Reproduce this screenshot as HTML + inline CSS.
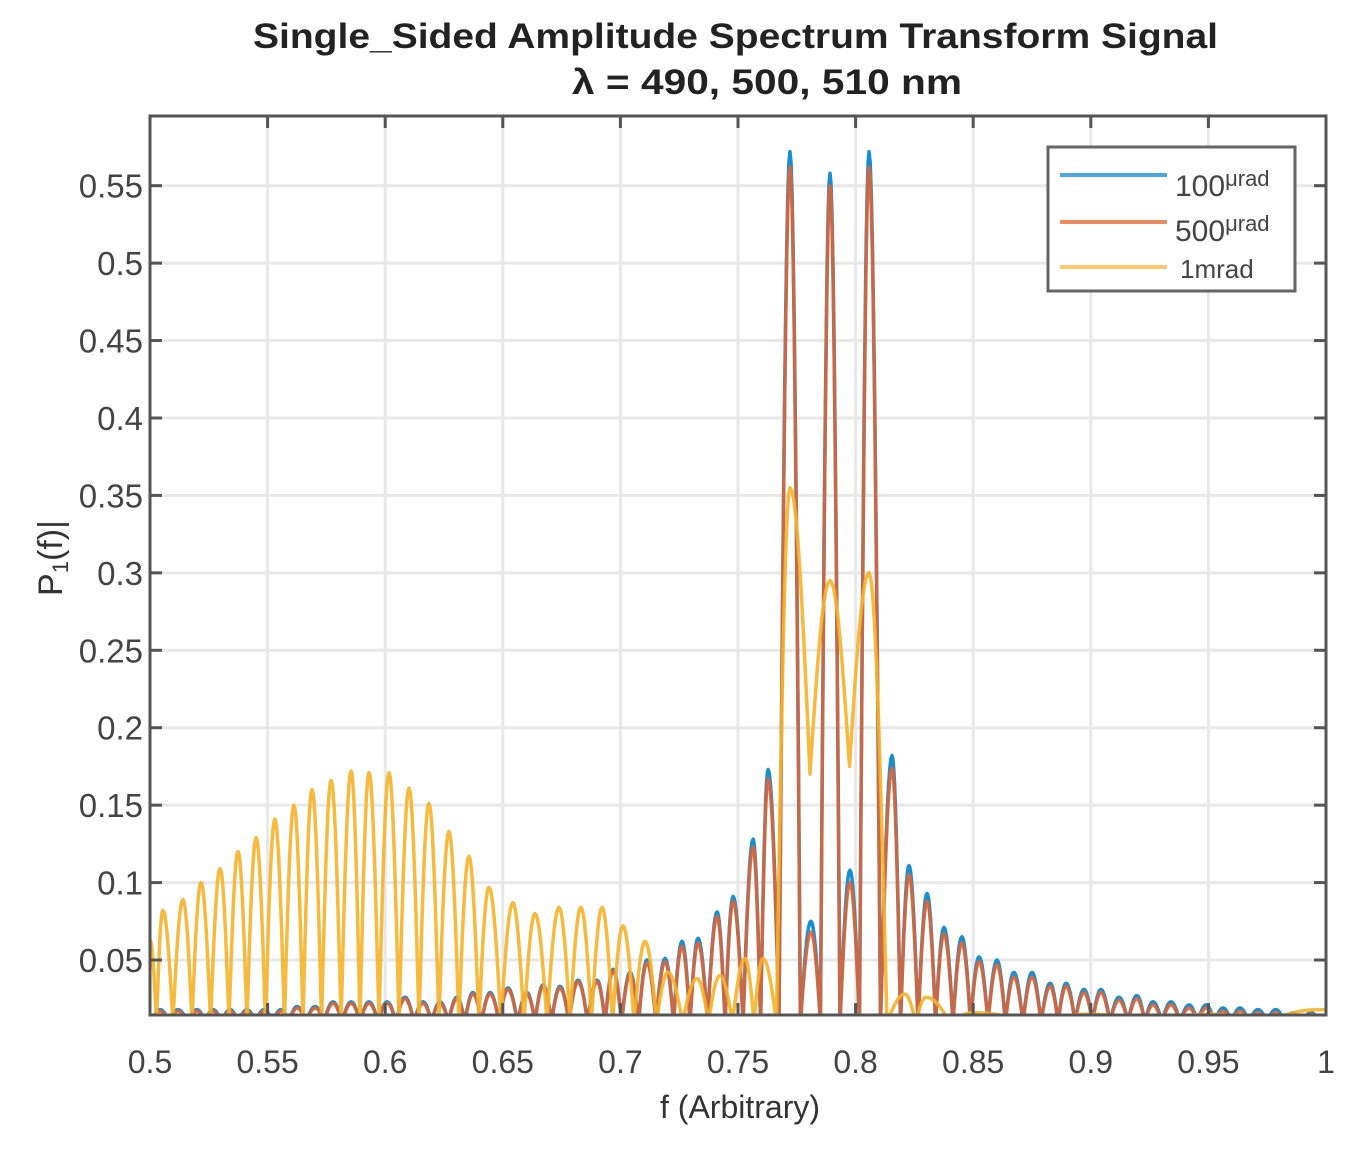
<!DOCTYPE html>
<html><head><meta charset="utf-8"><style>
html,body{margin:0;padding:0;background:#fff;}
svg text{font-family:"Liberation Sans",sans-serif;}
</style></head><body>
<svg id="chart" width="1356" height="1157" viewBox="0 0 1356 1157" xmlns="http://www.w3.org/2000/svg">
<rect width="1356" height="1157" fill="#fff"/>
<text x="253" y="48" font-size="35" font-weight="bold" fill="#222" textLength="965" lengthAdjust="spacingAndGlyphs">Single_Sided Amplitude Spectrum Transform Signal</text>
<text x="572" y="94" font-size="35" font-weight="bold" fill="#222" textLength="390" lengthAdjust="spacingAndGlyphs">λ = 490, 500, 510 nm</text>
<g id="grid"></g>
<g id="series"></g>
<g id="axes"></g>
<text x="740" y="1118" text-anchor="middle" font-size="32" fill="#333">f (Arbitrary)</text>
<text transform="translate(62,558) rotate(-90)" text-anchor="middle" font-size="34" fill="#333">P<tspan font-size="22" dy="6">1</tspan><tspan dy="-6">(f)|</tspan></text>
<g>
<rect x="1048" y="147" width="247" height="144" fill="#fff" stroke="#666" stroke-width="3"/>
<line x1="1060" y1="175" x2="1167" y2="175" stroke="#4aa8dc" stroke-width="4"/>
<text x="1175" y="196" font-size="30" fill="#444">100<tspan font-size="22" dy="-10">μrad</tspan></text>
<line x1="1060" y1="222" x2="1167" y2="222" stroke="#f08a60" stroke-width="4"/>
<text x="1175" y="241" font-size="30" fill="#444">500<tspan font-size="22" dy="-10">μrad</tspan></text>
<line x1="1060" y1="267" x2="1167" y2="267" stroke="#fcca6a" stroke-width="4"/>
<text x="1180" y="278" font-size="26" fill="#444">1mrad</text>
</g>
</svg>
<script>
// ---- data ----
const xTicks = [0.5,0.55,0.6,0.65,0.7,0.75,0.8,0.85,0.9,0.95,1];
const xTickLabels = ["0.5","0.55","0.6","0.65","0.7","0.75","0.8","0.85","0.9","0.95","1"];
const yTicks = [0.05,0.1,0.15,0.2,0.25,0.3,0.35,0.4,0.45,0.5,0.55];
const yTickLabels = ["0.05","0.1","0.15","0.2","0.25","0.3","0.35","0.4","0.45","0.5","0.55"];
const blueF = [.5043,.5119,.5200,.5268,.5340,.5412,.5485,.5557,.5625,.5702,.5778,.5855,.5931,.6008,.6084,.6161,.6233,.6305,.6373,.6446,.6522,.6603,.6671,.6743,.6820,.6901,.6969,.7041,.7113,.7190,.7262,.7330,.7411,.7479,.7564,.7628,.7721,.7810,.7891,.7976,.8057,.8155,.8227,.8304,.8376,.8452,.8525,.8601,.8673,.8750,.8827,.8895,.8971,.9043,.9120,.9196,.9264,.9341,.9418,.9490,.9562,.9634,.9711,.9787,.9860,.9936];
const blueV = [.018,.018,.018,.018,.018,.018,.018,.018,.020,.020,.023,.023,.023,.023,.026,.023,.023,.026,.029,.029,.032,.029,.034,.033,.037,.037,.044,.042,.050,.051,.062,.064,.081,.091,.128,.173,.572,.075,.558,.108,.572,.182,.111,.093,.071,.065,.052,.050,.042,.042,.035,.035,.031,.031,.026,.027,.023,.023,.021,.021,.019,.019,.018,.018,.016,.016];
const redF = blueF;
const redV = [.017,.017,.017,.017,.017,.017,.017,.017,.019,.019,.022,.022,.022,.022,.025,.022,.022,.025,.028,.028,.031,.028,.033,.032,.036,.036,.043,.041,.048,.049,.059,.061,.078,.088,.123,.167,.562,.068,.550,.100,.562,.174,.105,.088,.067,.061,.049,.047,.039,.039,.033,.033,.029,.029,.024,.025,.021,.021,.019,.019,.017,.017,.016,.016,.015,.015];
const yellowF = [.5,.5055,.5140,.5217,.5298,.5374,.5451,.5531,.5612,.5689,.5770,.5855,.5931,.6016,.6101,.6186,.6271,.6356,.6441,.6543,.6637,.6739,.6832,.6922,.7011,.7105,.7202,.7326,.7423,.7530,.7606,.7721,.7891,.8057,.8210,.8300,.8500,.9000,.9500,.9970];
const yellowV = [.063,.082,.089,.100,.109,.120,.129,.141,.150,.160,.166,.172,.171,.171,.161,.151,.133,.117,.097,.087,.080,.084,.084,.084,.072,.062,.042,.038,.040,.051,.051,.355,.295,.300,.028,.026,.016,.015,.015,.018];
// valley value after each peak
const yellowValleyAfter = [.01,.01,.01,.01,.01,.01,.01,.01,.01,.01,.01,.01,.01,.01,.01,.01,.01,.01,.01,.01,.01,.01,.01,.01,.01,.01,.01,.01,.01,.01,.01,.17,.175,.01,.01,.01,.01,.01,.01,.01];

// ---- axes ----
const L=150,R=1326,T=116,B=1015, yMin=0.0145, yMax=0.595;
const xs = f => L + (f-0.5)/0.5*(R-L);
const ys = v => B - (v-yMin)/(yMax-yMin)*(B-T);
const NS="http://www.w3.org/2000/svg";
function mk(tag, parent, attrs){const e=document.createElementNS(NS,tag);for(const k in attrs)e.setAttribute(k,attrs[k]);parent.appendChild(e);return e;}
const svg=document.getElementById('chart');
const defs=mk('defs',svg,{});
const cp=mk('clipPath',defs,{id:'plotclip'});
mk('rect',cp,{x:L,y:T,width:R-L,height:B-T});
const grid=document.getElementById('grid');
const axes=document.getElementById('axes');
xTicks.forEach((t,i)=>{
  const x=xs(t);
  const g=mk('line',grid,{x1:x,y1:T,x2:x,y2:B,stroke:'#e8e8e8','stroke-width':3});
  
  
  [[B,B-12],[T,T+12]].forEach(p=>{const tk=mk('line',axes,{x1:x,y1:p[0],x2:x,y2:p[1],stroke:'#555','stroke-width':3});
    
    });
  const lb=mk('text',axes,{x:x,y:1073,'text-anchor':'middle','font-size':32,fill:'#444'});
  lb.textContent=xTickLabels[i];
  
  
});
yTicks.forEach((t,i)=>{
  const y=ys(t);
  const g=mk('line',grid,{x1:L,y1:y,x2:R,y2:y,stroke:'#e8e8e8','stroke-width':3});
  
  
  [[L,L+12],[R,R-12]].forEach(p=>{const tk=mk('line',axes,{x1:p[0],y1:y,x2:p[1],y2:y,stroke:'#555','stroke-width':3});
    
    });
  const lb=mk('text',axes,{x:143,y:y+12,'text-anchor':'end','font-size':33,fill:'#444'});
  lb.textContent=yTickLabels[i];
  
  
});
const frame=mk('rect',axes,{x:L,y:T,width:R-L,height:B-T,fill:'none',stroke:'#555','stroke-width':3});



// ---- series ----
function lobePath(F,V,valleyAfter){
  const n=F.length; let d='';
  for(let i=0;i<n;i++){
    const lf = i>0 ? (F[i-1]+F[i])/2 : F[i]-(F[1]-F[0])/2;
    const rf = i<n-1 ? (F[i]+F[i+1])/2 : F[i]+(F[i]-F[i-1])/2;
    const lv = i>0 ? valleyAfter[i-1] : 0.01;
    const rv = valleyAfter[i];
    const steps=10;
    for(let s=0;s<=steps;s++){
      const t=s/steps;
      const x=xs(lf+(F[i]-lf)*t), y=ys(lv+(V[i]-lv)*Math.sin(t*Math.PI/2));
      d += (d===''?'M':'L')+x.toFixed(1)+','+y.toFixed(1);
    }
    for(let s=1;s<=steps;s++){
      const t=s/steps;
      const x=xs(F[i]+(rf-F[i])*t), y=ys(rv+(V[i]-rv)*Math.cos(t*Math.PI/2));
      d += 'L'+x.toFixed(1)+','+y.toFixed(1);
    }
  }
  return d;
}
const sg=document.getElementById('series');
sg.setAttribute('clip-path','url(#plotclip)');
function flat(F,v){return F.map(()=>v);}
const blue=mk('path',sg,{d:lobePath(blueF,blueV,flat(blueF,0.01)),fill:'none',stroke:'#1a8fd0','stroke-width':3.5,'stroke-linejoin':'round'});


const red=mk('path',sg,{d:lobePath(redF,redV,flat(redF,0.01)),fill:'none',stroke:'#d9653a','stroke-width':3.5,'stroke-linejoin':'round','stroke-opacity':0.9});


const yel=mk('path',sg,{d:lobePath(yellowF,yellowV,yellowValleyAfter),fill:'none',stroke:'#f5b22a','stroke-width':3.5,'stroke-linejoin':'round','stroke-opacity':0.9});


</script>
</body></html>
